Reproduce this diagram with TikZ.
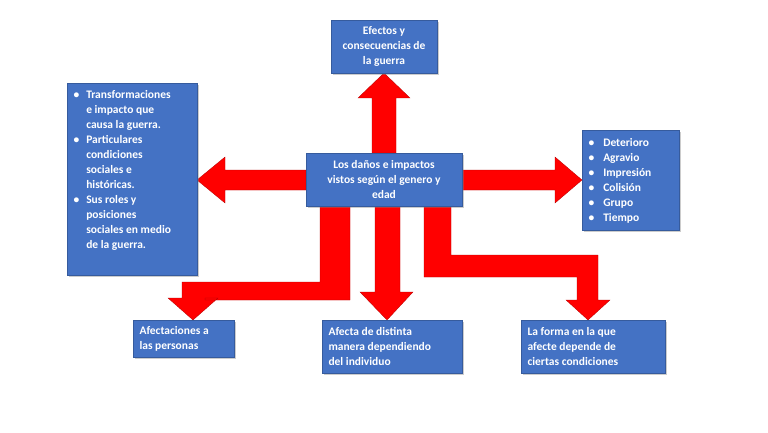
\documentclass[tikz,border=0pt]{standalone}
\usepackage{fontspec}
\setmainfont{Carlito}
\usetikzlibrary{shadows}
\definecolor{bx}{RGB}{68,114,196}
\definecolor{rd}{RGB}{255,0,0}
\begin{document}
\begin{tikzpicture}[x=1pt,y=-1pt,
  box/.style={fill=bx,draw=bx!80!black,line width=0.4pt,drop shadow={opacity=0.4,shadow xshift=2pt,shadow yshift=-2pt}},
  txt/.style={text=white,font=\fontsize{11.5}{15}\selectfont\bfseries,align=center},
  lst/.style={text=white,font=\fontsize{11.5}{15}\selectfont\bfseries,align=left,anchor=north west},
  arr/.style={fill=rd,draw=rd!70!black,line width=0.3pt}]
\useasboundingbox (0,0) rectangle (768,433);
% arrows
\path[arr] (372,153)--(372,98)--(358,98)--(384,73)--(410,98)--(396,98)--(396,153)--cycle;
\path[arr] (306,170)--(225,170)--(225,157)--(197,180)--(225,203)--(225,190)--(306,190)--cycle;
\path[arr] (462,170)--(555,170)--(555,157)--(582,180)--(555,203)--(555,190)--(462,190)--cycle;
\path[arr] (375,206)--(375,292)--(360,292)--(387,320)--(413,292)--(400,292)--(400,206)--cycle;
\path[arr] (320,206)--(320,282)--(182,282)--(182,298)--(168,298)--(193,320)--(218,298)--(205,298)--(205,300)--(350,300)--(350,206)--cycle;
\path[arr] (424,206)--(424,277)--(577,277)--(577,300)--(566,300)--(588,320)--(610,300)--(598,300)--(598,255)--(451,255)--(451,206)--cycle;
% boxes
\node[box,minimum width=156,minimum height=53] (c) at (384,179.5) {};
\node[txt] at (c) {Los daños e impactos\\vistos según el genero y\\edad};
\node[box,minimum width=106,minimum height=53] (t) at (384,46.5) {};
\node[txt] at (t) {Efectos y\\consecuencias de\\la guerra};
\node[box,minimum width=130,minimum height=192] (l) at (132,179) {};
\node[lst] at (70,84) {\begin{tabular}{@{}l@{\hspace{7pt}}l@{}}
\textbullet & Transformaciones\\ & e impacto que\\ & causa la guerra.\\
\textbullet & Particulares\\ & condiciones\\ & sociales e\\ & históricas.\\
\textbullet & Sus roles y\\ & posiciones\\ & sociales en medio\\ & de la guerra.\end{tabular}};
\node[box,minimum width=97,minimum height=100] (r) at (630.5,180) {};
\node[lst] at (585,132) {\begin{tabular}{@{}l@{\hspace{9pt}}l@{}}
\textbullet & Deterioro\\ \textbullet & Agravio\\ \textbullet & Impresión\\
\textbullet & Colisión\\ \textbullet & Grupo\\ \textbullet & Tiempo\end{tabular}};
\node[box,minimum width=101,minimum height=37] (b1) at (183.5,338.5) {};
\node[txt,align=left,anchor=west] at (136,338.5) {Afectaciones a\\las personas};
\node[box,minimum width=140,minimum height=53] (b2) at (392,346.5) {};
\node[txt,align=left,anchor=west] at (325,346.5) {Afecta de distinta\\manera dependiendo\\del individuo};
\node[box,minimum width=144,minimum height=53] (b3) at (593,346.5) {};
\node[txt,align=left,anchor=west] at (524,346.5) {La forma en la que\\afecte depende de\\ciertas condiciones};
\end{tikzpicture}
\end{document}
